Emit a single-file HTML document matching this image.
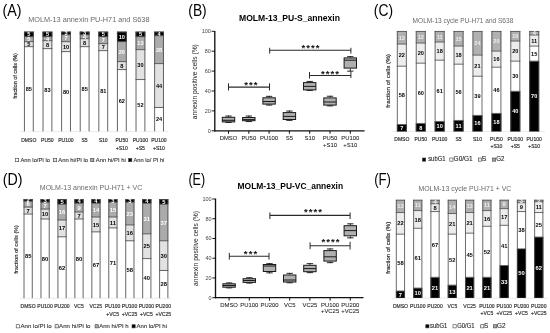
<!DOCTYPE html>
<html><head><meta charset="utf-8"><style>
html,body{margin:0;padding:0;background:#fff;width:550px;height:333px;overflow:hidden}
svg{display:block;font-family:"Liberation Sans", Arial, sans-serif;filter:blur(0.35px)}
</style></head><body>
<svg width="550" height="333" viewBox="0 0 550 333">
<rect width="550" height="333" fill="#fff"/>
<text x="2.60" y="15.70" font-size="15.6" fill="#000" textLength="19.00" lengthAdjust="spacingAndGlyphs" >(A)</text>
<text x="28.20" y="22.20" font-size="7" fill="#6a6a6a" textLength="121.30" lengthAdjust="spacingAndGlyphs" >MOLM-13 annexin PU-H71 and S638</text>
<text x="16.60" y="76.00" font-size="5.9" fill="#333333" stroke="#333333" stroke-width="0.2" text-anchor="middle" textLength="45.70" lengthAdjust="spacingAndGlyphs" transform="rotate(-90 16.60 76.00)" >fraction of cells (%)</text>
<line x1="20.00" y1="131.60" x2="168.00" y2="131.60" stroke="#e6e6e6" stroke-width="0.8"/>
<rect x="24.00" y="46.66" width="9.70" height="84.75" fill="#ffffff" />
<rect x="24.00" y="41.67" width="9.70" height="4.99" fill="#e2e2e2" />
<rect x="24.00" y="36.69" width="9.70" height="4.99" fill="#ababab" />
<rect x="24.00" y="31.70" width="9.70" height="4.99" fill="#000000" />
<line x1="24.43" y1="31.70" x2="24.43" y2="131.40" stroke="#4a4a4a" stroke-width="0.85"/>
<line x1="33.28" y1="31.70" x2="33.28" y2="131.40" stroke="#4a4a4a" stroke-width="0.85"/>
<line x1="24.00" y1="32.12" x2="33.70" y2="32.12" stroke="#4a4a4a" stroke-width="0.85"/>
<line x1="24.00" y1="46.66" x2="33.70" y2="46.66" stroke="#4a4a4a" stroke-width="0.85"/>
<line x1="24.00" y1="41.67" x2="33.70" y2="41.67" stroke="#4a4a4a" stroke-width="0.85"/>
<line x1="24.00" y1="36.69" x2="33.70" y2="36.69" stroke="#4a4a4a" stroke-width="0.85"/>
<text x="28.85" y="91.04" font-size="5.6" fill="#000" text-anchor="middle" font-weight="bold" >85</text>
<text x="28.85" y="46.18" font-size="5.6" fill="#000" text-anchor="middle" font-weight="bold" >5</text>
<text x="28.85" y="41.19" font-size="5.6" fill="#fff" text-anchor="middle" font-weight="bold" >5</text>
<text x="28.85" y="36.21" font-size="5.6" fill="#fff" text-anchor="middle" font-weight="bold" >5</text>
<rect x="42.60" y="48.65" width="9.70" height="82.75" fill="#ffffff" />
<rect x="42.60" y="40.67" width="9.70" height="7.98" fill="#e2e2e2" />
<rect x="42.60" y="36.69" width="9.70" height="3.99" fill="#ababab" />
<rect x="42.60" y="31.70" width="9.70" height="4.99" fill="#000000" />
<line x1="43.02" y1="31.70" x2="43.02" y2="131.40" stroke="#4a4a4a" stroke-width="0.85"/>
<line x1="51.88" y1="31.70" x2="51.88" y2="131.40" stroke="#4a4a4a" stroke-width="0.85"/>
<line x1="42.60" y1="32.12" x2="52.30" y2="32.12" stroke="#4a4a4a" stroke-width="0.85"/>
<line x1="42.60" y1="48.65" x2="52.30" y2="48.65" stroke="#4a4a4a" stroke-width="0.85"/>
<line x1="42.60" y1="40.67" x2="52.30" y2="40.67" stroke="#4a4a4a" stroke-width="0.85"/>
<line x1="42.60" y1="36.69" x2="52.30" y2="36.69" stroke="#4a4a4a" stroke-width="0.85"/>
<text x="47.45" y="92.04" font-size="5.6" fill="#000" text-anchor="middle" font-weight="bold" >83</text>
<text x="47.45" y="46.68" font-size="5.6" fill="#000" text-anchor="middle" font-weight="bold" >8</text>
<text x="47.45" y="40.70" font-size="5.6" fill="#fff" text-anchor="middle" font-weight="bold" >4</text>
<text x="47.45" y="36.21" font-size="5.6" fill="#fff" text-anchor="middle" font-weight="bold" >5</text>
<rect x="61.20" y="51.64" width="9.70" height="79.76" fill="#ffffff" />
<rect x="61.20" y="41.67" width="9.70" height="9.97" fill="#e2e2e2" />
<rect x="61.20" y="34.69" width="9.70" height="6.98" fill="#ababab" />
<rect x="61.20" y="31.70" width="9.70" height="2.99" fill="#000000" />
<line x1="61.62" y1="31.70" x2="61.62" y2="131.40" stroke="#4a4a4a" stroke-width="0.85"/>
<line x1="70.48" y1="31.70" x2="70.48" y2="131.40" stroke="#4a4a4a" stroke-width="0.85"/>
<line x1="61.20" y1="32.12" x2="70.90" y2="32.12" stroke="#4a4a4a" stroke-width="0.85"/>
<line x1="61.20" y1="51.64" x2="70.90" y2="51.64" stroke="#4a4a4a" stroke-width="0.85"/>
<line x1="61.20" y1="41.67" x2="70.90" y2="41.67" stroke="#4a4a4a" stroke-width="0.85"/>
<line x1="61.20" y1="34.69" x2="70.90" y2="34.69" stroke="#4a4a4a" stroke-width="0.85"/>
<text x="66.05" y="93.54" font-size="5.6" fill="#000" text-anchor="middle" font-weight="bold" >80</text>
<text x="66.05" y="48.67" font-size="5.6" fill="#000" text-anchor="middle" font-weight="bold" >10</text>
<text x="66.05" y="40.20" font-size="5.6" fill="#fff" text-anchor="middle" font-weight="bold" >7</text>
<text x="66.05" y="35.21" font-size="5.6" fill="#fff" text-anchor="middle" font-weight="bold" >3</text>
<rect x="79.80" y="46.66" width="9.70" height="84.75" fill="#ffffff" />
<rect x="79.80" y="38.68" width="9.70" height="7.98" fill="#e2e2e2" />
<rect x="79.80" y="34.69" width="9.70" height="3.99" fill="#ababab" />
<rect x="79.80" y="31.70" width="9.70" height="2.99" fill="#000000" />
<line x1="80.23" y1="31.70" x2="80.23" y2="131.40" stroke="#4a4a4a" stroke-width="0.85"/>
<line x1="89.08" y1="31.70" x2="89.08" y2="131.40" stroke="#4a4a4a" stroke-width="0.85"/>
<line x1="79.80" y1="32.12" x2="89.50" y2="32.12" stroke="#4a4a4a" stroke-width="0.85"/>
<line x1="79.80" y1="46.66" x2="89.50" y2="46.66" stroke="#4a4a4a" stroke-width="0.85"/>
<line x1="79.80" y1="38.68" x2="89.50" y2="38.68" stroke="#4a4a4a" stroke-width="0.85"/>
<line x1="79.80" y1="34.69" x2="89.50" y2="34.69" stroke="#4a4a4a" stroke-width="0.85"/>
<text x="84.65" y="91.04" font-size="5.6" fill="#000" text-anchor="middle" font-weight="bold" >85</text>
<text x="84.65" y="44.68" font-size="5.6" fill="#000" text-anchor="middle" font-weight="bold" >8</text>
<text x="84.65" y="38.70" font-size="5.6" fill="#fff" text-anchor="middle" font-weight="bold" >4</text>
<text x="84.65" y="35.21" font-size="5.6" fill="#fff" text-anchor="middle" font-weight="bold" >3</text>
<rect x="98.40" y="50.64" width="9.70" height="80.76" fill="#ffffff" />
<rect x="98.40" y="43.66" width="9.70" height="6.98" fill="#e2e2e2" />
<rect x="98.40" y="36.69" width="9.70" height="6.98" fill="#ababab" />
<rect x="98.40" y="31.70" width="9.70" height="4.99" fill="#000000" />
<line x1="98.83" y1="31.70" x2="98.83" y2="131.40" stroke="#4a4a4a" stroke-width="0.85"/>
<line x1="107.68" y1="31.70" x2="107.68" y2="131.40" stroke="#4a4a4a" stroke-width="0.85"/>
<line x1="98.40" y1="32.12" x2="108.10" y2="32.12" stroke="#4a4a4a" stroke-width="0.85"/>
<line x1="98.40" y1="50.64" x2="108.10" y2="50.64" stroke="#4a4a4a" stroke-width="0.85"/>
<line x1="98.40" y1="43.66" x2="108.10" y2="43.66" stroke="#4a4a4a" stroke-width="0.85"/>
<line x1="98.40" y1="36.69" x2="108.10" y2="36.69" stroke="#4a4a4a" stroke-width="0.85"/>
<text x="103.25" y="93.04" font-size="5.6" fill="#000" text-anchor="middle" font-weight="bold" >81</text>
<text x="103.25" y="49.17" font-size="5.6" fill="#000" text-anchor="middle" font-weight="bold" >7</text>
<text x="103.25" y="42.19" font-size="5.6" fill="#fff" text-anchor="middle" font-weight="bold" >7</text>
<text x="103.25" y="36.21" font-size="5.6" fill="#fff" text-anchor="middle" font-weight="bold" >5</text>
<rect x="117.00" y="69.59" width="9.70" height="61.81" fill="#ffffff" />
<rect x="117.00" y="61.61" width="9.70" height="7.98" fill="#e2e2e2" />
<rect x="117.00" y="41.67" width="9.70" height="19.94" fill="#ababab" />
<rect x="117.00" y="31.70" width="9.70" height="9.97" fill="#000000" />
<line x1="117.42" y1="31.70" x2="117.42" y2="131.40" stroke="#4a4a4a" stroke-width="0.85"/>
<line x1="126.28" y1="31.70" x2="126.28" y2="131.40" stroke="#4a4a4a" stroke-width="0.85"/>
<line x1="117.00" y1="32.12" x2="126.70" y2="32.12" stroke="#4a4a4a" stroke-width="0.85"/>
<line x1="117.00" y1="69.59" x2="126.70" y2="69.59" stroke="#4a4a4a" stroke-width="0.85"/>
<line x1="117.00" y1="61.61" x2="126.70" y2="61.61" stroke="#4a4a4a" stroke-width="0.85"/>
<line x1="117.00" y1="41.67" x2="126.70" y2="41.67" stroke="#4a4a4a" stroke-width="0.85"/>
<text x="121.85" y="102.51" font-size="5.6" fill="#000" text-anchor="middle" font-weight="bold" >62</text>
<text x="121.85" y="67.61" font-size="5.6" fill="#000" text-anchor="middle" font-weight="bold" >8</text>
<text x="121.85" y="53.66" font-size="5.6" fill="#fff" text-anchor="middle" font-weight="bold" >20</text>
<text x="121.85" y="38.70" font-size="5.6" fill="#fff" text-anchor="middle" font-weight="bold" >10</text>
<rect x="135.60" y="79.56" width="9.70" height="51.84" fill="#ffffff" />
<rect x="135.60" y="49.65" width="9.70" height="29.91" fill="#e2e2e2" />
<rect x="135.60" y="36.69" width="9.70" height="12.96" fill="#ababab" />
<rect x="135.60" y="31.70" width="9.70" height="4.99" fill="#000000" />
<line x1="136.03" y1="31.70" x2="136.03" y2="131.40" stroke="#4a4a4a" stroke-width="0.85"/>
<line x1="144.88" y1="31.70" x2="144.88" y2="131.40" stroke="#4a4a4a" stroke-width="0.85"/>
<line x1="135.60" y1="32.12" x2="145.30" y2="32.12" stroke="#4a4a4a" stroke-width="0.85"/>
<line x1="135.60" y1="79.56" x2="145.30" y2="79.56" stroke="#4a4a4a" stroke-width="0.85"/>
<line x1="135.60" y1="49.65" x2="145.30" y2="49.65" stroke="#4a4a4a" stroke-width="0.85"/>
<line x1="135.60" y1="36.69" x2="145.30" y2="36.69" stroke="#4a4a4a" stroke-width="0.85"/>
<text x="140.45" y="107.49" font-size="5.6" fill="#000" text-anchor="middle" font-weight="bold" >52</text>
<text x="140.45" y="66.62" font-size="5.6" fill="#000" text-anchor="middle" font-weight="bold" >30</text>
<text x="140.45" y="45.18" font-size="5.6" fill="#fff" text-anchor="middle" font-weight="bold" >13</text>
<text x="140.45" y="36.21" font-size="5.6" fill="#fff" text-anchor="middle" font-weight="bold" >5</text>
<rect x="154.20" y="107.47" width="9.70" height="23.93" fill="#ffffff" />
<rect x="154.20" y="63.60" width="9.70" height="43.87" fill="#e2e2e2" />
<rect x="154.20" y="35.69" width="9.70" height="27.92" fill="#ababab" />
<rect x="154.20" y="31.70" width="9.70" height="3.99" fill="#000000" />
<line x1="154.63" y1="31.70" x2="154.63" y2="131.40" stroke="#4a4a4a" stroke-width="0.85"/>
<line x1="163.47" y1="31.70" x2="163.47" y2="131.40" stroke="#4a4a4a" stroke-width="0.85"/>
<line x1="154.20" y1="32.12" x2="163.90" y2="32.12" stroke="#4a4a4a" stroke-width="0.85"/>
<line x1="154.20" y1="107.47" x2="163.90" y2="107.47" stroke="#4a4a4a" stroke-width="0.85"/>
<line x1="154.20" y1="63.60" x2="163.90" y2="63.60" stroke="#4a4a4a" stroke-width="0.85"/>
<line x1="154.20" y1="35.69" x2="163.90" y2="35.69" stroke="#4a4a4a" stroke-width="0.85"/>
<text x="159.05" y="121.45" font-size="5.6" fill="#000" text-anchor="middle" font-weight="bold" >24</text>
<text x="159.05" y="87.55" font-size="5.6" fill="#000" text-anchor="middle" font-weight="bold" >44</text>
<text x="159.05" y="51.66" font-size="5.6" fill="#fff" text-anchor="middle" font-weight="bold" >28</text>
<text x="159.05" y="35.71" font-size="5.6" fill="#fff" text-anchor="middle" font-weight="bold" >4</text>
<text x="28.75" y="141.50" font-size="5.6" fill="#333333" stroke="#333333" stroke-width="0.2" text-anchor="middle" textLength="15.12" lengthAdjust="spacingAndGlyphs" >DMSO</text>
<text x="47.35" y="141.50" font-size="5.6" fill="#333333" stroke="#333333" stroke-width="0.2" text-anchor="middle" textLength="12.61" lengthAdjust="spacingAndGlyphs" >PU50</text>
<text x="65.95" y="141.50" font-size="5.6" fill="#333333" stroke="#333333" stroke-width="0.2" text-anchor="middle" textLength="15.41" lengthAdjust="spacingAndGlyphs" >PU100</text>
<text x="84.55" y="141.50" font-size="5.6" fill="#333333" stroke="#333333" stroke-width="0.2" text-anchor="middle" textLength="6.16" lengthAdjust="spacingAndGlyphs" >S5</text>
<text x="103.15" y="141.50" font-size="5.6" fill="#333333" stroke="#333333" stroke-width="0.2" text-anchor="middle" textLength="8.97" lengthAdjust="spacingAndGlyphs" >S10</text>
<text x="121.75" y="141.50" font-size="5.6" fill="#333333" stroke="#333333" stroke-width="0.2" text-anchor="middle" textLength="12.61" lengthAdjust="spacingAndGlyphs" >PU50</text>
<text x="121.75" y="149.50" font-size="5.6" fill="#333333" stroke="#333333" stroke-width="0.2" text-anchor="middle" textLength="11.91" lengthAdjust="spacingAndGlyphs" >+S10</text>
<text x="140.35" y="141.50" font-size="5.6" fill="#333333" stroke="#333333" stroke-width="0.2" text-anchor="middle" textLength="15.41" lengthAdjust="spacingAndGlyphs" >PU100</text>
<text x="140.35" y="149.50" font-size="5.6" fill="#333333" stroke="#333333" stroke-width="0.2" text-anchor="middle" textLength="9.11" lengthAdjust="spacingAndGlyphs" >+S5</text>
<text x="158.95" y="141.50" font-size="5.6" fill="#333333" stroke="#333333" stroke-width="0.2" text-anchor="middle" textLength="15.41" lengthAdjust="spacingAndGlyphs" >PU100</text>
<text x="158.95" y="149.50" font-size="5.6" fill="#333333" stroke="#333333" stroke-width="0.2" text-anchor="middle" textLength="11.91" lengthAdjust="spacingAndGlyphs" >+S10</text>
<rect x="15.50" y="158.50" width="3.20" height="3.20" fill="#ffffff" stroke="#404040" stroke-width="0.6" />
<text x="20.50" y="161.80" font-size="6.0" fill="#333333" stroke="#333333" stroke-width="0.12" textLength="29.50" lengthAdjust="spacingAndGlyphs" >Ann lo/PI lo</text>
<rect x="53.50" y="158.50" width="3.20" height="3.20" fill="#e2e2e2" stroke="#404040" stroke-width="0.6" />
<text x="58.30" y="161.80" font-size="6.0" fill="#333333" stroke="#333333" stroke-width="0.12" textLength="29.70" lengthAdjust="spacingAndGlyphs" >Ann hi/PI lo</text>
<rect x="90.70" y="158.50" width="3.20" height="3.20" fill="#a6a6a6" stroke="#404040" stroke-width="0.6" />
<text x="95.80" y="161.80" font-size="6.0" fill="#333333" stroke="#333333" stroke-width="0.12" textLength="29.90" lengthAdjust="spacingAndGlyphs" >Ann hi/PI hi</text>
<rect x="128.60" y="158.50" width="3.20" height="3.20" fill="#000000" stroke="#404040" stroke-width="0.6" />
<text x="133.50" y="161.80" font-size="6.0" fill="#333333" stroke="#333333" stroke-width="0.12" textLength="30.90" lengthAdjust="spacingAndGlyphs" >Ann lo/ PI hi</text>
<text x="373.80" y="15.70" font-size="15.6" fill="#000" textLength="19.20" lengthAdjust="spacingAndGlyphs" >(C)</text>
<text x="412.60" y="22.60" font-size="6.8" fill="#6a6a6a" textLength="100.70" lengthAdjust="spacingAndGlyphs" >MOLM-13 cycle PU-H71 and S638</text>
<text x="390.30" y="80.90" font-size="5.8" fill="#333333" stroke="#333333" stroke-width="0.2" text-anchor="middle" textLength="53.60" lengthAdjust="spacingAndGlyphs" transform="rotate(-90 390.30 80.90)" >fraction of cells (%)</text>
<line x1="392.00" y1="131.40" x2="545.00" y2="131.40" stroke="#e6e6e6" stroke-width="0.8"/>
<rect x="396.90" y="124.47" width="9.90" height="7.04" fill="#000000" />
<rect x="396.90" y="66.18" width="9.90" height="58.29" fill="#ffffff" />
<rect x="396.90" y="44.07" width="9.90" height="22.11" fill="#ededed" />
<rect x="396.90" y="31.00" width="9.90" height="13.06" fill="#b0b0b0" />
<line x1="397.32" y1="31.00" x2="397.32" y2="131.50" stroke="#505050" stroke-width="0.85"/>
<line x1="406.37" y1="31.00" x2="406.37" y2="131.50" stroke="#505050" stroke-width="0.85"/>
<line x1="396.90" y1="31.43" x2="406.80" y2="31.43" stroke="#505050" stroke-width="0.85"/>
<line x1="396.90" y1="124.47" x2="406.80" y2="124.47" stroke="#505050" stroke-width="0.85"/>
<line x1="396.90" y1="66.18" x2="406.80" y2="66.18" stroke="#505050" stroke-width="0.85"/>
<line x1="396.90" y1="44.07" x2="406.80" y2="44.07" stroke="#505050" stroke-width="0.85"/>
<text x="401.85" y="130.00" font-size="5.6" fill="#fff" text-anchor="middle" font-weight="bold" >7</text>
<text x="401.85" y="97.34" font-size="5.6" fill="#000" text-anchor="middle" font-weight="bold" >58</text>
<text x="401.85" y="57.14" font-size="5.6" fill="#000" text-anchor="middle" font-weight="bold" >22</text>
<text x="401.85" y="39.55" font-size="5.6" fill="#eeeeee" text-anchor="middle" font-weight="bold" >13</text>
<rect x="415.81" y="123.46" width="9.90" height="8.04" fill="#000000" />
<rect x="415.81" y="63.16" width="9.90" height="60.30" fill="#ffffff" />
<rect x="415.81" y="43.06" width="9.90" height="20.10" fill="#ededed" />
<rect x="415.81" y="31.00" width="9.90" height="12.06" fill="#b0b0b0" />
<line x1="416.24" y1="31.00" x2="416.24" y2="131.50" stroke="#505050" stroke-width="0.85"/>
<line x1="425.28" y1="31.00" x2="425.28" y2="131.50" stroke="#505050" stroke-width="0.85"/>
<line x1="415.81" y1="31.43" x2="425.71" y2="31.43" stroke="#505050" stroke-width="0.85"/>
<line x1="415.81" y1="123.46" x2="425.71" y2="123.46" stroke="#505050" stroke-width="0.85"/>
<line x1="415.81" y1="63.16" x2="425.71" y2="63.16" stroke="#505050" stroke-width="0.85"/>
<line x1="415.81" y1="43.06" x2="425.71" y2="43.06" stroke="#505050" stroke-width="0.85"/>
<text x="420.76" y="129.50" font-size="5.6" fill="#fff" text-anchor="middle" font-weight="bold" >8</text>
<text x="420.76" y="95.33" font-size="5.6" fill="#000" text-anchor="middle" font-weight="bold" >60</text>
<text x="420.76" y="55.13" font-size="5.6" fill="#000" text-anchor="middle" font-weight="bold" >20</text>
<text x="420.76" y="39.05" font-size="5.6" fill="#eeeeee" text-anchor="middle" font-weight="bold" >12</text>
<rect x="434.72" y="121.45" width="9.90" height="10.05" fill="#000000" />
<rect x="434.72" y="60.15" width="9.90" height="61.30" fill="#ffffff" />
<rect x="434.72" y="42.06" width="9.90" height="18.09" fill="#ededed" />
<rect x="434.72" y="31.00" width="9.90" height="11.05" fill="#b0b0b0" />
<line x1="435.14" y1="31.00" x2="435.14" y2="131.50" stroke="#505050" stroke-width="0.85"/>
<line x1="444.19" y1="31.00" x2="444.19" y2="131.50" stroke="#505050" stroke-width="0.85"/>
<line x1="434.72" y1="31.43" x2="444.62" y2="31.43" stroke="#505050" stroke-width="0.85"/>
<line x1="434.72" y1="121.45" x2="444.62" y2="121.45" stroke="#505050" stroke-width="0.85"/>
<line x1="434.72" y1="60.15" x2="444.62" y2="60.15" stroke="#505050" stroke-width="0.85"/>
<line x1="434.72" y1="42.06" x2="444.62" y2="42.06" stroke="#505050" stroke-width="0.85"/>
<text x="439.67" y="128.49" font-size="5.6" fill="#fff" text-anchor="middle" font-weight="bold" >10</text>
<text x="439.67" y="92.81" font-size="5.6" fill="#000" text-anchor="middle" font-weight="bold" >61</text>
<text x="439.67" y="53.12" font-size="5.6" fill="#000" text-anchor="middle" font-weight="bold" >18</text>
<text x="439.67" y="38.54" font-size="5.6" fill="#eeeeee" text-anchor="middle" font-weight="bold" >11</text>
<rect x="453.63" y="120.44" width="9.90" height="11.05" fill="#000000" />
<rect x="453.63" y="64.16" width="9.90" height="56.28" fill="#ffffff" />
<rect x="453.63" y="46.07" width="9.90" height="18.09" fill="#ededed" />
<rect x="453.63" y="31.00" width="9.90" height="15.07" fill="#b0b0b0" />
<line x1="454.06" y1="31.00" x2="454.06" y2="131.50" stroke="#505050" stroke-width="0.85"/>
<line x1="463.10" y1="31.00" x2="463.10" y2="131.50" stroke="#505050" stroke-width="0.85"/>
<line x1="453.63" y1="31.43" x2="463.53" y2="31.43" stroke="#505050" stroke-width="0.85"/>
<line x1="453.63" y1="120.44" x2="463.53" y2="120.44" stroke="#505050" stroke-width="0.85"/>
<line x1="453.63" y1="64.16" x2="463.53" y2="64.16" stroke="#505050" stroke-width="0.85"/>
<line x1="453.63" y1="46.07" x2="463.53" y2="46.07" stroke="#505050" stroke-width="0.85"/>
<text x="458.58" y="127.99" font-size="5.6" fill="#fff" text-anchor="middle" font-weight="bold" >11</text>
<text x="458.58" y="94.32" font-size="5.6" fill="#000" text-anchor="middle" font-weight="bold" >56</text>
<text x="458.58" y="57.14" font-size="5.6" fill="#000" text-anchor="middle" font-weight="bold" >18</text>
<text x="458.58" y="40.55" font-size="5.6" fill="#eeeeee" text-anchor="middle" font-weight="bold" >15</text>
<rect x="472.54" y="115.42" width="9.90" height="16.08" fill="#000000" />
<rect x="472.54" y="76.22" width="9.90" height="39.20" fill="#ffffff" />
<rect x="472.54" y="55.12" width="9.90" height="21.11" fill="#ededed" />
<rect x="472.54" y="31.00" width="9.90" height="24.12" fill="#b0b0b0" />
<line x1="472.96" y1="31.00" x2="472.96" y2="131.50" stroke="#505050" stroke-width="0.85"/>
<line x1="482.01" y1="31.00" x2="482.01" y2="131.50" stroke="#505050" stroke-width="0.85"/>
<line x1="472.54" y1="31.43" x2="482.44" y2="31.43" stroke="#505050" stroke-width="0.85"/>
<line x1="472.54" y1="115.42" x2="482.44" y2="115.42" stroke="#505050" stroke-width="0.85"/>
<line x1="472.54" y1="76.22" x2="482.44" y2="76.22" stroke="#505050" stroke-width="0.85"/>
<line x1="472.54" y1="55.12" x2="482.44" y2="55.12" stroke="#505050" stroke-width="0.85"/>
<text x="477.49" y="125.48" font-size="5.6" fill="#fff" text-anchor="middle" font-weight="bold" >16</text>
<text x="477.49" y="97.84" font-size="5.6" fill="#000" text-anchor="middle" font-weight="bold" >39</text>
<text x="477.49" y="67.69" font-size="5.6" fill="#000" text-anchor="middle" font-weight="bold" >21</text>
<text x="477.49" y="45.08" font-size="5.6" fill="#eeeeee" text-anchor="middle" font-weight="bold" >24</text>
<rect x="491.45" y="113.41" width="9.90" height="18.09" fill="#000000" />
<rect x="491.45" y="67.18" width="9.90" height="46.23" fill="#ffffff" />
<rect x="491.45" y="51.10" width="9.90" height="16.08" fill="#ededed" />
<rect x="491.45" y="31.00" width="9.90" height="20.10" fill="#b0b0b0" />
<line x1="491.88" y1="31.00" x2="491.88" y2="131.50" stroke="#505050" stroke-width="0.85"/>
<line x1="500.92" y1="31.00" x2="500.92" y2="131.50" stroke="#505050" stroke-width="0.85"/>
<line x1="491.45" y1="31.43" x2="501.35" y2="31.43" stroke="#505050" stroke-width="0.85"/>
<line x1="491.45" y1="113.41" x2="501.35" y2="113.41" stroke="#505050" stroke-width="0.85"/>
<line x1="491.45" y1="67.18" x2="501.35" y2="67.18" stroke="#505050" stroke-width="0.85"/>
<line x1="491.45" y1="51.10" x2="501.35" y2="51.10" stroke="#505050" stroke-width="0.85"/>
<text x="496.40" y="124.47" font-size="5.6" fill="#fff" text-anchor="middle" font-weight="bold" >18</text>
<text x="496.40" y="92.31" font-size="5.6" fill="#000" text-anchor="middle" font-weight="bold" >46</text>
<text x="496.40" y="61.16" font-size="5.6" fill="#000" text-anchor="middle" font-weight="bold" >16</text>
<text x="496.40" y="43.07" font-size="5.6" fill="#eeeeee" text-anchor="middle" font-weight="bold" >20</text>
<rect x="510.36" y="91.30" width="9.90" height="40.20" fill="#000000" />
<rect x="510.36" y="61.15" width="9.90" height="30.15" fill="#ffffff" />
<rect x="510.36" y="41.05" width="9.90" height="20.10" fill="#ededed" />
<rect x="510.36" y="31.00" width="9.90" height="10.05" fill="#b0b0b0" />
<line x1="510.79" y1="31.00" x2="510.79" y2="131.50" stroke="#505050" stroke-width="0.85"/>
<line x1="519.84" y1="31.00" x2="519.84" y2="131.50" stroke="#505050" stroke-width="0.85"/>
<line x1="510.36" y1="31.43" x2="520.26" y2="31.43" stroke="#505050" stroke-width="0.85"/>
<line x1="510.36" y1="91.30" x2="520.26" y2="91.30" stroke="#505050" stroke-width="0.85"/>
<line x1="510.36" y1="61.15" x2="520.26" y2="61.15" stroke="#505050" stroke-width="0.85"/>
<line x1="510.36" y1="41.05" x2="520.26" y2="41.05" stroke="#505050" stroke-width="0.85"/>
<text x="515.31" y="113.42" font-size="5.6" fill="#fff" text-anchor="middle" font-weight="bold" >40</text>
<text x="515.31" y="78.24" font-size="5.6" fill="#000" text-anchor="middle" font-weight="bold" >30</text>
<text x="515.31" y="53.12" font-size="5.6" fill="#000" text-anchor="middle" font-weight="bold" >20</text>
<text x="515.31" y="38.04" font-size="5.6" fill="#eeeeee" text-anchor="middle" font-weight="bold" >10</text>
<rect x="529.27" y="61.15" width="9.90" height="70.35" fill="#000000" />
<rect x="529.27" y="46.08" width="9.90" height="15.07" fill="#ffffff" />
<rect x="529.27" y="35.02" width="9.90" height="11.05" fill="#ededed" />
<rect x="529.27" y="31.00" width="9.90" height="4.02" fill="#b0b0b0" />
<line x1="529.69" y1="31.00" x2="529.69" y2="131.50" stroke="#505050" stroke-width="0.85"/>
<line x1="538.75" y1="31.00" x2="538.75" y2="131.50" stroke="#505050" stroke-width="0.85"/>
<line x1="529.27" y1="31.43" x2="539.17" y2="31.43" stroke="#505050" stroke-width="0.85"/>
<line x1="529.27" y1="61.15" x2="539.17" y2="61.15" stroke="#505050" stroke-width="0.85"/>
<line x1="529.27" y1="46.08" x2="539.17" y2="46.08" stroke="#505050" stroke-width="0.85"/>
<line x1="529.27" y1="35.02" x2="539.17" y2="35.02" stroke="#505050" stroke-width="0.85"/>
<text x="534.22" y="98.34" font-size="5.6" fill="#fff" text-anchor="middle" font-weight="bold" >70</text>
<text x="534.22" y="55.63" font-size="5.6" fill="#000" text-anchor="middle" font-weight="bold" >15</text>
<text x="534.22" y="42.56" font-size="5.6" fill="#000" text-anchor="middle" font-weight="bold" >11</text>
<text x="534.22" y="35.03" font-size="5.6" fill="#eeeeee" text-anchor="middle" font-weight="bold" >4</text>
<text x="401.85" y="141.00" font-size="5.6" fill="#333333" stroke="#333333" stroke-width="0.2" text-anchor="middle" textLength="15.12" lengthAdjust="spacingAndGlyphs" >DMSO</text>
<text x="420.76" y="141.00" font-size="5.6" fill="#333333" stroke="#333333" stroke-width="0.2" text-anchor="middle" textLength="12.61" lengthAdjust="spacingAndGlyphs" >PU50</text>
<text x="439.67" y="141.00" font-size="5.6" fill="#333333" stroke="#333333" stroke-width="0.2" text-anchor="middle" textLength="15.41" lengthAdjust="spacingAndGlyphs" >PU100</text>
<text x="458.58" y="141.00" font-size="5.6" fill="#333333" stroke="#333333" stroke-width="0.2" text-anchor="middle" textLength="6.16" lengthAdjust="spacingAndGlyphs" >S5</text>
<text x="477.49" y="141.00" font-size="5.6" fill="#333333" stroke="#333333" stroke-width="0.2" text-anchor="middle" textLength="8.97" lengthAdjust="spacingAndGlyphs" >S10</text>
<text x="496.40" y="141.00" font-size="5.6" fill="#333333" stroke="#333333" stroke-width="0.2" text-anchor="middle" textLength="12.61" lengthAdjust="spacingAndGlyphs" >PU50</text>
<text x="496.40" y="148.30" font-size="5.6" fill="#333333" stroke="#333333" stroke-width="0.2" text-anchor="middle" textLength="11.91" lengthAdjust="spacingAndGlyphs" >+S10</text>
<text x="515.31" y="141.00" font-size="5.6" fill="#333333" stroke="#333333" stroke-width="0.2" text-anchor="middle" textLength="15.41" lengthAdjust="spacingAndGlyphs" >PU100</text>
<text x="515.31" y="148.30" font-size="5.6" fill="#333333" stroke="#333333" stroke-width="0.2" text-anchor="middle" textLength="9.11" lengthAdjust="spacingAndGlyphs" >+S5</text>
<text x="534.22" y="141.00" font-size="5.6" fill="#333333" stroke="#333333" stroke-width="0.2" text-anchor="middle" textLength="15.41" lengthAdjust="spacingAndGlyphs" >PU100</text>
<text x="534.22" y="148.30" font-size="5.6" fill="#333333" stroke="#333333" stroke-width="0.2" text-anchor="middle" textLength="11.91" lengthAdjust="spacingAndGlyphs" >+S10</text>
<rect x="422.50" y="158.00" width="3.20" height="3.20" fill="#000000" stroke="#404040" stroke-width="0.6" />
<text x="428.20" y="161.30" font-size="6.4" fill="#262626" stroke="#262626" stroke-width="0.12" textLength="17.30" lengthAdjust="spacingAndGlyphs" >subG1</text>
<rect x="449.80" y="158.00" width="3.20" height="3.20" fill="#ffffff" stroke="#404040" stroke-width="0.6" />
<text x="453.60" y="161.30" font-size="6.4" fill="#262626" stroke="#262626" stroke-width="0.12" textLength="19.10" lengthAdjust="spacingAndGlyphs" >G0/G1</text>
<rect x="478.30" y="158.00" width="3.20" height="3.20" fill="#efefef" stroke="#404040" stroke-width="0.6" />
<text x="481.60" y="161.30" font-size="6.4" fill="#262626" stroke="#262626" stroke-width="0.12" textLength="4.80" lengthAdjust="spacingAndGlyphs" >S</text>
<rect x="492.50" y="158.00" width="3.20" height="3.20" fill="#a6a6a6" stroke="#404040" stroke-width="0.6" />
<text x="496.30" y="161.30" font-size="6.4" fill="#262626" stroke="#262626" stroke-width="0.12" textLength="8.20" lengthAdjust="spacingAndGlyphs" >G2</text>
<text x="2.80" y="185.00" font-size="15.8" fill="#000" textLength="19.70" lengthAdjust="spacingAndGlyphs" >(D)</text>
<text x="39.80" y="189.80" font-size="7" fill="#6a6a6a" textLength="102.60" lengthAdjust="spacingAndGlyphs" >MOLM-13 annexin PU-H71 + VC</text>
<text x="18.40" y="249.60" font-size="5.6" fill="#262626" text-anchor="middle" font-weight="bold" textLength="48.50" lengthAdjust="spacingAndGlyphs" transform="rotate(-90 18.40 249.60)" >fraction of cells (%)</text>
<line x1="20.00" y1="298.40" x2="171.00" y2="298.40" stroke="#e6e6e6" stroke-width="0.8"/>
<rect x="23.60" y="214.05" width="9.10" height="84.15" fill="#ffffff" />
<rect x="23.60" y="207.12" width="9.10" height="6.93" fill="#e2e2e2" />
<rect x="23.60" y="201.18" width="9.10" height="5.94" fill="#ababab" />
<rect x="23.60" y="199.20" width="9.10" height="1.98" fill="#000000" />
<line x1="24.03" y1="199.20" x2="24.03" y2="298.20" stroke="#4a4a4a" stroke-width="0.85"/>
<line x1="32.28" y1="199.20" x2="32.28" y2="298.20" stroke="#4a4a4a" stroke-width="0.85"/>
<line x1="23.60" y1="199.62" x2="32.70" y2="199.62" stroke="#4a4a4a" stroke-width="0.85"/>
<line x1="23.60" y1="214.05" x2="32.70" y2="214.05" stroke="#4a4a4a" stroke-width="0.85"/>
<line x1="23.60" y1="207.12" x2="32.70" y2="207.12" stroke="#4a4a4a" stroke-width="0.85"/>
<line x1="23.60" y1="201.18" x2="32.70" y2="201.18" stroke="#4a4a4a" stroke-width="0.85"/>
<text x="28.15" y="258.21" font-size="5.8" fill="#000" text-anchor="middle" font-weight="bold" >85</text>
<text x="28.15" y="212.67" font-size="5.8" fill="#000" text-anchor="middle" font-weight="bold" >7</text>
<text x="28.15" y="206.24" font-size="5.8" fill="#fff" text-anchor="middle" font-weight="bold" >6</text>
<text x="28.15" y="202.28" font-size="5.8" fill="#fff" text-anchor="middle" font-weight="bold" >2</text>
<rect x="40.55" y="219.00" width="9.10" height="79.20" fill="#ffffff" />
<rect x="40.55" y="209.10" width="9.10" height="9.90" fill="#e2e2e2" />
<rect x="40.55" y="202.17" width="9.10" height="6.93" fill="#ababab" />
<rect x="40.55" y="199.20" width="9.10" height="2.97" fill="#000000" />
<line x1="40.97" y1="199.20" x2="40.97" y2="298.20" stroke="#4a4a4a" stroke-width="0.85"/>
<line x1="49.23" y1="199.20" x2="49.23" y2="298.20" stroke="#4a4a4a" stroke-width="0.85"/>
<line x1="40.55" y1="199.62" x2="49.65" y2="199.62" stroke="#4a4a4a" stroke-width="0.85"/>
<line x1="40.55" y1="219.00" x2="49.65" y2="219.00" stroke="#4a4a4a" stroke-width="0.85"/>
<line x1="40.55" y1="209.10" x2="49.65" y2="209.10" stroke="#4a4a4a" stroke-width="0.85"/>
<line x1="40.55" y1="202.17" x2="49.65" y2="202.17" stroke="#4a4a4a" stroke-width="0.85"/>
<text x="45.10" y="260.69" font-size="5.8" fill="#000" text-anchor="middle" font-weight="bold" >80</text>
<text x="45.10" y="216.14" font-size="5.8" fill="#000" text-anchor="middle" font-weight="bold" >10</text>
<text x="45.10" y="207.72" font-size="5.8" fill="#fff" text-anchor="middle" font-weight="bold" >7</text>
<text x="45.10" y="202.77" font-size="5.8" fill="#fff" text-anchor="middle" font-weight="bold" >3</text>
<rect x="57.50" y="236.82" width="9.10" height="61.38" fill="#ffffff" />
<rect x="57.50" y="219.99" width="9.10" height="16.83" fill="#e2e2e2" />
<rect x="57.50" y="204.15" width="9.10" height="15.84" fill="#ababab" />
<rect x="57.50" y="199.20" width="9.10" height="4.95" fill="#000000" />
<line x1="57.92" y1="199.20" x2="57.92" y2="298.20" stroke="#4a4a4a" stroke-width="0.85"/>
<line x1="66.17" y1="199.20" x2="66.17" y2="298.20" stroke="#4a4a4a" stroke-width="0.85"/>
<line x1="57.50" y1="199.62" x2="66.60" y2="199.62" stroke="#4a4a4a" stroke-width="0.85"/>
<line x1="57.50" y1="236.82" x2="66.60" y2="236.82" stroke="#4a4a4a" stroke-width="0.85"/>
<line x1="57.50" y1="219.99" x2="66.60" y2="219.99" stroke="#4a4a4a" stroke-width="0.85"/>
<line x1="57.50" y1="204.15" x2="66.60" y2="204.15" stroke="#4a4a4a" stroke-width="0.85"/>
<text x="62.05" y="269.60" font-size="5.8" fill="#000" text-anchor="middle" font-weight="bold" >62</text>
<text x="62.05" y="230.49" font-size="5.8" fill="#000" text-anchor="middle" font-weight="bold" >17</text>
<text x="62.05" y="214.16" font-size="5.8" fill="#fff" text-anchor="middle" font-weight="bold" >16</text>
<text x="62.05" y="203.76" font-size="5.8" fill="#fff" text-anchor="middle" font-weight="bold" >5</text>
<rect x="74.45" y="219.00" width="9.10" height="79.20" fill="#ffffff" />
<rect x="74.45" y="212.07" width="9.10" height="6.93" fill="#e2e2e2" />
<rect x="74.45" y="203.16" width="9.10" height="8.91" fill="#ababab" />
<rect x="74.45" y="199.20" width="9.10" height="3.96" fill="#000000" />
<line x1="74.87" y1="199.20" x2="74.87" y2="298.20" stroke="#4a4a4a" stroke-width="0.85"/>
<line x1="83.12" y1="199.20" x2="83.12" y2="298.20" stroke="#4a4a4a" stroke-width="0.85"/>
<line x1="74.45" y1="199.62" x2="83.55" y2="199.62" stroke="#4a4a4a" stroke-width="0.85"/>
<line x1="74.45" y1="219.00" x2="83.55" y2="219.00" stroke="#4a4a4a" stroke-width="0.85"/>
<line x1="74.45" y1="212.07" x2="83.55" y2="212.07" stroke="#4a4a4a" stroke-width="0.85"/>
<line x1="74.45" y1="203.16" x2="83.55" y2="203.16" stroke="#4a4a4a" stroke-width="0.85"/>
<text x="79.00" y="260.69" font-size="5.8" fill="#000" text-anchor="middle" font-weight="bold" >80</text>
<text x="79.00" y="217.62" font-size="5.8" fill="#000" text-anchor="middle" font-weight="bold" >7</text>
<text x="79.00" y="209.70" font-size="5.8" fill="#fff" text-anchor="middle" font-weight="bold" >9</text>
<text x="79.00" y="203.27" font-size="5.8" fill="#fff" text-anchor="middle" font-weight="bold" >4</text>
<rect x="91.40" y="231.87" width="9.10" height="66.33" fill="#ffffff" />
<rect x="91.40" y="217.02" width="9.10" height="14.85" fill="#e2e2e2" />
<rect x="91.40" y="203.16" width="9.10" height="13.86" fill="#ababab" />
<rect x="91.40" y="199.20" width="9.10" height="3.96" fill="#000000" />
<line x1="91.83" y1="199.20" x2="91.83" y2="298.20" stroke="#4a4a4a" stroke-width="0.85"/>
<line x1="100.08" y1="199.20" x2="100.08" y2="298.20" stroke="#4a4a4a" stroke-width="0.85"/>
<line x1="91.40" y1="199.62" x2="100.50" y2="199.62" stroke="#4a4a4a" stroke-width="0.85"/>
<line x1="91.40" y1="231.87" x2="100.50" y2="231.87" stroke="#4a4a4a" stroke-width="0.85"/>
<line x1="91.40" y1="217.02" x2="100.50" y2="217.02" stroke="#4a4a4a" stroke-width="0.85"/>
<line x1="91.40" y1="203.16" x2="100.50" y2="203.16" stroke="#4a4a4a" stroke-width="0.85"/>
<text x="95.95" y="267.12" font-size="5.8" fill="#000" text-anchor="middle" font-weight="bold" >67</text>
<text x="95.95" y="226.53" font-size="5.8" fill="#000" text-anchor="middle" font-weight="bold" >15</text>
<text x="95.95" y="212.18" font-size="5.8" fill="#fff" text-anchor="middle" font-weight="bold" >14</text>
<text x="95.95" y="203.27" font-size="5.8" fill="#fff" text-anchor="middle" font-weight="bold" >4</text>
<rect x="108.35" y="227.91" width="9.10" height="70.29" fill="#ffffff" />
<rect x="108.35" y="217.02" width="9.10" height="10.89" fill="#e2e2e2" />
<rect x="108.35" y="202.17" width="9.10" height="14.85" fill="#ababab" />
<rect x="108.35" y="199.20" width="9.10" height="2.97" fill="#000000" />
<line x1="108.77" y1="199.20" x2="108.77" y2="298.20" stroke="#4a4a4a" stroke-width="0.85"/>
<line x1="117.02" y1="199.20" x2="117.02" y2="298.20" stroke="#4a4a4a" stroke-width="0.85"/>
<line x1="108.35" y1="199.62" x2="117.45" y2="199.62" stroke="#4a4a4a" stroke-width="0.85"/>
<line x1="108.35" y1="227.91" x2="117.45" y2="227.91" stroke="#4a4a4a" stroke-width="0.85"/>
<line x1="108.35" y1="217.02" x2="117.45" y2="217.02" stroke="#4a4a4a" stroke-width="0.85"/>
<line x1="108.35" y1="202.17" x2="117.45" y2="202.17" stroke="#4a4a4a" stroke-width="0.85"/>
<text x="112.90" y="265.14" font-size="5.8" fill="#000" text-anchor="middle" font-weight="bold" >71</text>
<text x="112.90" y="224.55" font-size="5.8" fill="#000" text-anchor="middle" font-weight="bold" >11</text>
<text x="112.90" y="211.68" font-size="5.8" fill="#fff" text-anchor="middle" font-weight="bold" >15</text>
<text x="112.90" y="202.77" font-size="5.8" fill="#fff" text-anchor="middle" font-weight="bold" >3</text>
<rect x="125.30" y="240.78" width="9.10" height="57.42" fill="#ffffff" />
<rect x="125.30" y="224.94" width="9.10" height="15.84" fill="#e2e2e2" />
<rect x="125.30" y="202.17" width="9.10" height="22.77" fill="#ababab" />
<rect x="125.30" y="199.20" width="9.10" height="2.97" fill="#000000" />
<line x1="125.72" y1="199.20" x2="125.72" y2="298.20" stroke="#4a4a4a" stroke-width="0.85"/>
<line x1="133.97" y1="199.20" x2="133.97" y2="298.20" stroke="#4a4a4a" stroke-width="0.85"/>
<line x1="125.30" y1="199.62" x2="134.40" y2="199.62" stroke="#4a4a4a" stroke-width="0.85"/>
<line x1="125.30" y1="240.78" x2="134.40" y2="240.78" stroke="#4a4a4a" stroke-width="0.85"/>
<line x1="125.30" y1="224.94" x2="134.40" y2="224.94" stroke="#4a4a4a" stroke-width="0.85"/>
<line x1="125.30" y1="202.17" x2="134.40" y2="202.17" stroke="#4a4a4a" stroke-width="0.85"/>
<text x="129.85" y="271.58" font-size="5.8" fill="#000" text-anchor="middle" font-weight="bold" >58</text>
<text x="129.85" y="234.95" font-size="5.8" fill="#000" text-anchor="middle" font-weight="bold" >16</text>
<text x="129.85" y="215.64" font-size="5.8" fill="#fff" text-anchor="middle" font-weight="bold" >23</text>
<text x="129.85" y="202.77" font-size="5.8" fill="#fff" text-anchor="middle" font-weight="bold" >3</text>
<rect x="142.25" y="258.60" width="9.10" height="39.60" fill="#ffffff" />
<rect x="142.25" y="233.85" width="9.10" height="24.75" fill="#e2e2e2" />
<rect x="142.25" y="203.16" width="9.10" height="30.69" fill="#ababab" />
<rect x="142.25" y="199.20" width="9.10" height="3.96" fill="#000000" />
<line x1="142.68" y1="199.20" x2="142.68" y2="298.20" stroke="#4a4a4a" stroke-width="0.85"/>
<line x1="150.92" y1="199.20" x2="150.92" y2="298.20" stroke="#4a4a4a" stroke-width="0.85"/>
<line x1="142.25" y1="199.62" x2="151.35" y2="199.62" stroke="#4a4a4a" stroke-width="0.85"/>
<line x1="142.25" y1="258.60" x2="151.35" y2="258.60" stroke="#4a4a4a" stroke-width="0.85"/>
<line x1="142.25" y1="233.85" x2="151.35" y2="233.85" stroke="#4a4a4a" stroke-width="0.85"/>
<line x1="142.25" y1="203.16" x2="151.35" y2="203.16" stroke="#4a4a4a" stroke-width="0.85"/>
<text x="146.80" y="280.49" font-size="5.8" fill="#000" text-anchor="middle" font-weight="bold" >40</text>
<text x="146.80" y="248.31" font-size="5.8" fill="#000" text-anchor="middle" font-weight="bold" >25</text>
<text x="146.80" y="220.59" font-size="5.8" fill="#fff" text-anchor="middle" font-weight="bold" >31</text>
<text x="146.80" y="203.27" font-size="5.8" fill="#fff" text-anchor="middle" font-weight="bold" >4</text>
<rect x="159.20" y="270.48" width="9.10" height="27.72" fill="#ffffff" />
<rect x="159.20" y="240.78" width="9.10" height="29.70" fill="#e2e2e2" />
<rect x="159.20" y="204.15" width="9.10" height="36.63" fill="#ababab" />
<rect x="159.20" y="199.20" width="9.10" height="4.95" fill="#000000" />
<line x1="159.62" y1="199.20" x2="159.62" y2="298.20" stroke="#4a4a4a" stroke-width="0.85"/>
<line x1="167.87" y1="199.20" x2="167.87" y2="298.20" stroke="#4a4a4a" stroke-width="0.85"/>
<line x1="159.20" y1="199.62" x2="168.30" y2="199.62" stroke="#4a4a4a" stroke-width="0.85"/>
<line x1="159.20" y1="270.48" x2="168.30" y2="270.48" stroke="#4a4a4a" stroke-width="0.85"/>
<line x1="159.20" y1="240.78" x2="168.30" y2="240.78" stroke="#4a4a4a" stroke-width="0.85"/>
<line x1="159.20" y1="204.15" x2="168.30" y2="204.15" stroke="#4a4a4a" stroke-width="0.85"/>
<text x="163.75" y="286.43" font-size="5.8" fill="#000" text-anchor="middle" font-weight="bold" >28</text>
<text x="163.75" y="257.72" font-size="5.8" fill="#000" text-anchor="middle" font-weight="bold" >30</text>
<text x="163.75" y="224.55" font-size="5.8" fill="#fff" text-anchor="middle" font-weight="bold" >37</text>
<text x="163.75" y="203.76" font-size="5.8" fill="#fff" text-anchor="middle" font-weight="bold" >5</text>
<text x="28.10" y="308.40" font-size="5.6" fill="#333333" stroke="#333333" stroke-width="0.2" text-anchor="middle" textLength="15.12" lengthAdjust="spacingAndGlyphs" >DMSO</text>
<text x="45.00" y="308.40" font-size="5.6" fill="#333333" stroke="#333333" stroke-width="0.2" text-anchor="middle" textLength="15.41" lengthAdjust="spacingAndGlyphs" >PU100</text>
<text x="61.90" y="308.40" font-size="5.6" fill="#333333" stroke="#333333" stroke-width="0.2" text-anchor="middle" textLength="15.41" lengthAdjust="spacingAndGlyphs" >PU200</text>
<text x="78.80" y="308.40" font-size="5.6" fill="#333333" stroke="#333333" stroke-width="0.2" text-anchor="middle" textLength="9.80" lengthAdjust="spacingAndGlyphs" >VC5</text>
<text x="95.70" y="308.40" font-size="5.6" fill="#333333" stroke="#333333" stroke-width="0.2" text-anchor="middle" textLength="12.61" lengthAdjust="spacingAndGlyphs" >VC25</text>
<text x="112.60" y="308.40" font-size="5.6" fill="#333333" stroke="#333333" stroke-width="0.2" text-anchor="middle" textLength="15.41" lengthAdjust="spacingAndGlyphs" >PU100</text>
<text x="112.60" y="315.60" font-size="5.6" fill="#333333" stroke="#333333" stroke-width="0.2" text-anchor="middle" textLength="12.75" lengthAdjust="spacingAndGlyphs" >+VC5</text>
<text x="129.50" y="308.40" font-size="5.6" fill="#333333" stroke="#333333" stroke-width="0.2" text-anchor="middle" textLength="15.41" lengthAdjust="spacingAndGlyphs" >PU100</text>
<text x="129.50" y="315.60" font-size="5.6" fill="#333333" stroke="#333333" stroke-width="0.2" text-anchor="middle" textLength="15.55" lengthAdjust="spacingAndGlyphs" >+VC25</text>
<text x="146.40" y="308.40" font-size="5.6" fill="#333333" stroke="#333333" stroke-width="0.2" text-anchor="middle" textLength="15.41" lengthAdjust="spacingAndGlyphs" >PU200</text>
<text x="146.40" y="315.60" font-size="5.6" fill="#333333" stroke="#333333" stroke-width="0.2" text-anchor="middle" textLength="12.75" lengthAdjust="spacingAndGlyphs" >+VC5</text>
<text x="163.30" y="308.40" font-size="5.6" fill="#333333" stroke="#333333" stroke-width="0.2" text-anchor="middle" textLength="15.41" lengthAdjust="spacingAndGlyphs" >PU200</text>
<text x="163.30" y="315.60" font-size="5.6" fill="#333333" stroke="#333333" stroke-width="0.2" text-anchor="middle" textLength="15.55" lengthAdjust="spacingAndGlyphs" >+VC25</text>
<rect x="16.20" y="324.70" width="3.20" height="3.20" fill="#ffffff" stroke="#404040" stroke-width="0.6" />
<text x="20.50" y="328.00" font-size="6.0" fill="#333333" stroke="#333333" stroke-width="0.12" textLength="31.20" lengthAdjust="spacingAndGlyphs" >Ann lo/PI lo</text>
<rect x="55.10" y="324.70" width="3.20" height="3.20" fill="#e2e2e2" stroke="#404040" stroke-width="0.6" />
<text x="59.10" y="328.00" font-size="6.0" fill="#333333" stroke="#333333" stroke-width="0.12" textLength="31.30" lengthAdjust="spacingAndGlyphs" >Ann hi/PI lo</text>
<rect x="95.10" y="324.70" width="3.20" height="3.20" fill="#a6a6a6" stroke="#404040" stroke-width="0.6" />
<text x="99.30" y="328.00" font-size="6.0" fill="#333333" stroke="#333333" stroke-width="0.12" textLength="29.30" lengthAdjust="spacingAndGlyphs" >Ann hi/PI h</text>
<rect x="132.00" y="324.70" width="3.20" height="3.20" fill="#000000" stroke="#404040" stroke-width="0.6" />
<text x="136.40" y="328.00" font-size="6.0" fill="#333333" stroke="#333333" stroke-width="0.12" textLength="30.60" lengthAdjust="spacingAndGlyphs" >Ann lo/PI hi</text>
<text x="374.20" y="185.00" font-size="15.8" fill="#000" textLength="16.80" lengthAdjust="spacingAndGlyphs" >(F)</text>
<text x="418.40" y="190.80" font-size="6.8" fill="#6a6a6a" textLength="93.00" lengthAdjust="spacingAndGlyphs" >MOLM-13 cycle PU-H71 + VC</text>
<text x="389.60" y="247.80" font-size="5.8" fill="#333333" stroke="#333333" stroke-width="0.2" text-anchor="middle" textLength="52.00" lengthAdjust="spacingAndGlyphs" transform="rotate(-90 389.60 247.80)" >fraction of cells (%)</text>
<line x1="392.00" y1="298.20" x2="548.00" y2="298.20" stroke="#e6e6e6" stroke-width="0.8"/>
<rect x="395.90" y="291.03" width="9.10" height="6.87" fill="#000000" />
<rect x="395.90" y="234.13" width="9.10" height="56.90" fill="#ffffff" />
<rect x="395.90" y="212.55" width="9.10" height="21.58" fill="#ededed" />
<rect x="395.90" y="199.80" width="9.10" height="12.75" fill="#b0b0b0" />
<line x1="396.32" y1="199.80" x2="396.32" y2="297.90" stroke="#505050" stroke-width="0.85"/>
<line x1="404.57" y1="199.80" x2="404.57" y2="297.90" stroke="#505050" stroke-width="0.85"/>
<line x1="395.90" y1="200.23" x2="405.00" y2="200.23" stroke="#505050" stroke-width="0.85"/>
<line x1="395.90" y1="291.03" x2="405.00" y2="291.03" stroke="#505050" stroke-width="0.85"/>
<line x1="395.90" y1="234.13" x2="405.00" y2="234.13" stroke="#505050" stroke-width="0.85"/>
<line x1="395.90" y1="212.55" x2="405.00" y2="212.55" stroke="#505050" stroke-width="0.85"/>
<text x="400.45" y="296.55" font-size="5.8" fill="#fff" text-anchor="middle" font-weight="bold" >7</text>
<text x="400.45" y="264.67" font-size="5.8" fill="#000" text-anchor="middle" font-weight="bold" >58</text>
<text x="400.45" y="225.43" font-size="5.8" fill="#000" text-anchor="middle" font-weight="bold" >22</text>
<text x="400.45" y="208.26" font-size="5.8" fill="#eeeeee" text-anchor="middle" font-weight="bold" >13</text>
<rect x="413.19" y="288.09" width="9.10" height="9.81" fill="#000000" />
<rect x="413.19" y="228.25" width="9.10" height="59.84" fill="#ffffff" />
<rect x="413.19" y="210.59" width="9.10" height="17.66" fill="#ededed" />
<rect x="413.19" y="199.80" width="9.10" height="10.79" fill="#b0b0b0" />
<line x1="413.62" y1="199.80" x2="413.62" y2="297.90" stroke="#505050" stroke-width="0.85"/>
<line x1="421.87" y1="199.80" x2="421.87" y2="297.90" stroke="#505050" stroke-width="0.85"/>
<line x1="413.19" y1="200.23" x2="422.29" y2="200.23" stroke="#505050" stroke-width="0.85"/>
<line x1="413.19" y1="288.09" x2="422.29" y2="288.09" stroke="#505050" stroke-width="0.85"/>
<line x1="413.19" y1="228.25" x2="422.29" y2="228.25" stroke="#505050" stroke-width="0.85"/>
<line x1="413.19" y1="210.59" x2="422.29" y2="210.59" stroke="#505050" stroke-width="0.85"/>
<text x="417.74" y="295.08" font-size="5.8" fill="#fff" text-anchor="middle" font-weight="bold" >10</text>
<text x="417.74" y="260.26" font-size="5.8" fill="#000" text-anchor="middle" font-weight="bold" >61</text>
<text x="417.74" y="221.51" font-size="5.8" fill="#000" text-anchor="middle" font-weight="bold" >18</text>
<text x="417.74" y="207.28" font-size="5.8" fill="#eeeeee" text-anchor="middle" font-weight="bold" >11</text>
<rect x="430.48" y="277.30" width="9.10" height="20.60" fill="#000000" />
<rect x="430.48" y="211.57" width="9.10" height="65.73" fill="#ffffff" />
<rect x="430.48" y="203.72" width="9.10" height="7.85" fill="#ededed" />
<rect x="430.48" y="199.80" width="9.10" height="3.92" fill="#b0b0b0" />
<line x1="430.90" y1="199.80" x2="430.90" y2="297.90" stroke="#505050" stroke-width="0.85"/>
<line x1="439.15" y1="199.80" x2="439.15" y2="297.90" stroke="#505050" stroke-width="0.85"/>
<line x1="430.48" y1="200.23" x2="439.58" y2="200.23" stroke="#505050" stroke-width="0.85"/>
<line x1="430.48" y1="277.30" x2="439.58" y2="277.30" stroke="#505050" stroke-width="0.85"/>
<line x1="430.48" y1="211.57" x2="439.58" y2="211.57" stroke="#505050" stroke-width="0.85"/>
<line x1="430.48" y1="203.72" x2="439.58" y2="203.72" stroke="#505050" stroke-width="0.85"/>
<text x="435.03" y="289.69" font-size="5.8" fill="#fff" text-anchor="middle" font-weight="bold" >21</text>
<text x="435.03" y="246.52" font-size="5.8" fill="#000" text-anchor="middle" font-weight="bold" >67</text>
<text x="435.03" y="209.74" font-size="5.8" fill="#000" text-anchor="middle" font-weight="bold" >8</text>
<text x="435.03" y="203.85" font-size="5.8" fill="#eeeeee" text-anchor="middle" font-weight="bold" >4</text>
<rect x="447.77" y="285.15" width="9.10" height="12.75" fill="#000000" />
<rect x="447.77" y="234.14" width="9.10" height="51.01" fill="#ffffff" />
<rect x="447.77" y="213.53" width="9.10" height="20.60" fill="#ededed" />
<rect x="447.77" y="199.80" width="9.10" height="13.73" fill="#b0b0b0" />
<line x1="448.19" y1="199.80" x2="448.19" y2="297.90" stroke="#505050" stroke-width="0.85"/>
<line x1="456.44" y1="199.80" x2="456.44" y2="297.90" stroke="#505050" stroke-width="0.85"/>
<line x1="447.77" y1="200.23" x2="456.87" y2="200.23" stroke="#505050" stroke-width="0.85"/>
<line x1="447.77" y1="285.15" x2="456.87" y2="285.15" stroke="#505050" stroke-width="0.85"/>
<line x1="447.77" y1="234.14" x2="456.87" y2="234.14" stroke="#505050" stroke-width="0.85"/>
<line x1="447.77" y1="213.53" x2="456.87" y2="213.53" stroke="#505050" stroke-width="0.85"/>
<text x="452.32" y="293.61" font-size="5.8" fill="#fff" text-anchor="middle" font-weight="bold" >13</text>
<text x="452.32" y="261.73" font-size="5.8" fill="#000" text-anchor="middle" font-weight="bold" >52</text>
<text x="452.32" y="225.92" font-size="5.8" fill="#000" text-anchor="middle" font-weight="bold" >21</text>
<text x="452.32" y="208.75" font-size="5.8" fill="#eeeeee" text-anchor="middle" font-weight="bold" >14</text>
<rect x="465.06" y="277.30" width="9.10" height="20.60" fill="#000000" />
<rect x="465.06" y="233.15" width="9.10" height="44.14" fill="#ffffff" />
<rect x="465.06" y="212.55" width="9.10" height="20.60" fill="#ededed" />
<rect x="465.06" y="199.80" width="9.10" height="12.75" fill="#b0b0b0" />
<line x1="465.48" y1="199.80" x2="465.48" y2="297.90" stroke="#505050" stroke-width="0.85"/>
<line x1="473.73" y1="199.80" x2="473.73" y2="297.90" stroke="#505050" stroke-width="0.85"/>
<line x1="465.06" y1="200.23" x2="474.16" y2="200.23" stroke="#505050" stroke-width="0.85"/>
<line x1="465.06" y1="277.30" x2="474.16" y2="277.30" stroke="#505050" stroke-width="0.85"/>
<line x1="465.06" y1="233.15" x2="474.16" y2="233.15" stroke="#505050" stroke-width="0.85"/>
<line x1="465.06" y1="212.55" x2="474.16" y2="212.55" stroke="#505050" stroke-width="0.85"/>
<text x="469.61" y="289.69" font-size="5.8" fill="#fff" text-anchor="middle" font-weight="bold" >21</text>
<text x="469.61" y="257.31" font-size="5.8" fill="#000" text-anchor="middle" font-weight="bold" >45</text>
<text x="469.61" y="224.94" font-size="5.8" fill="#000" text-anchor="middle" font-weight="bold" >21</text>
<text x="469.61" y="208.26" font-size="5.8" fill="#eeeeee" text-anchor="middle" font-weight="bold" >13</text>
<rect x="482.35" y="277.30" width="9.10" height="20.60" fill="#000000" />
<rect x="482.35" y="226.29" width="9.10" height="51.01" fill="#ffffff" />
<rect x="482.35" y="210.59" width="9.10" height="15.70" fill="#ededed" />
<rect x="482.35" y="199.80" width="9.10" height="10.79" fill="#b0b0b0" />
<line x1="482.77" y1="199.80" x2="482.77" y2="297.90" stroke="#505050" stroke-width="0.85"/>
<line x1="491.02" y1="199.80" x2="491.02" y2="297.90" stroke="#505050" stroke-width="0.85"/>
<line x1="482.35" y1="200.23" x2="491.45" y2="200.23" stroke="#505050" stroke-width="0.85"/>
<line x1="482.35" y1="277.30" x2="491.45" y2="277.30" stroke="#505050" stroke-width="0.85"/>
<line x1="482.35" y1="226.29" x2="491.45" y2="226.29" stroke="#505050" stroke-width="0.85"/>
<line x1="482.35" y1="210.59" x2="491.45" y2="210.59" stroke="#505050" stroke-width="0.85"/>
<text x="486.90" y="289.69" font-size="5.8" fill="#fff" text-anchor="middle" font-weight="bold" >21</text>
<text x="486.90" y="253.88" font-size="5.8" fill="#000" text-anchor="middle" font-weight="bold" >52</text>
<text x="486.90" y="220.53" font-size="5.8" fill="#000" text-anchor="middle" font-weight="bold" >16</text>
<text x="486.90" y="207.28" font-size="5.8" fill="#eeeeee" text-anchor="middle" font-weight="bold" >11</text>
<rect x="499.64" y="265.53" width="9.10" height="32.37" fill="#000000" />
<rect x="499.64" y="225.31" width="9.10" height="40.22" fill="#ffffff" />
<rect x="499.64" y="208.63" width="9.10" height="16.68" fill="#ededed" />
<rect x="499.64" y="199.80" width="9.10" height="8.83" fill="#b0b0b0" />
<line x1="500.06" y1="199.80" x2="500.06" y2="297.90" stroke="#505050" stroke-width="0.85"/>
<line x1="508.31" y1="199.80" x2="508.31" y2="297.90" stroke="#505050" stroke-width="0.85"/>
<line x1="499.64" y1="200.23" x2="508.74" y2="200.23" stroke="#505050" stroke-width="0.85"/>
<line x1="499.64" y1="265.53" x2="508.74" y2="265.53" stroke="#505050" stroke-width="0.85"/>
<line x1="499.64" y1="225.31" x2="508.74" y2="225.31" stroke="#505050" stroke-width="0.85"/>
<line x1="499.64" y1="208.63" x2="508.74" y2="208.63" stroke="#505050" stroke-width="0.85"/>
<text x="504.19" y="283.80" font-size="5.8" fill="#fff" text-anchor="middle" font-weight="bold" >33</text>
<text x="504.19" y="247.50" font-size="5.8" fill="#000" text-anchor="middle" font-weight="bold" >41</text>
<text x="504.19" y="219.06" font-size="5.8" fill="#000" text-anchor="middle" font-weight="bold" >17</text>
<text x="504.19" y="206.30" font-size="5.8" fill="#eeeeee" text-anchor="middle" font-weight="bold" >9</text>
<rect x="516.93" y="248.85" width="9.10" height="49.05" fill="#000000" />
<rect x="516.93" y="211.57" width="9.10" height="37.28" fill="#ffffff" />
<rect x="516.93" y="202.74" width="9.10" height="8.83" fill="#ededed" />
<rect x="516.93" y="199.80" width="9.10" height="2.94" fill="#b0b0b0" />
<line x1="517.35" y1="199.80" x2="517.35" y2="297.90" stroke="#505050" stroke-width="0.85"/>
<line x1="525.61" y1="199.80" x2="525.61" y2="297.90" stroke="#505050" stroke-width="0.85"/>
<line x1="516.93" y1="200.23" x2="526.03" y2="200.23" stroke="#505050" stroke-width="0.85"/>
<line x1="516.93" y1="248.85" x2="526.03" y2="248.85" stroke="#505050" stroke-width="0.85"/>
<line x1="516.93" y1="211.57" x2="526.03" y2="211.57" stroke="#505050" stroke-width="0.85"/>
<line x1="516.93" y1="202.74" x2="526.03" y2="202.74" stroke="#505050" stroke-width="0.85"/>
<text x="521.48" y="275.46" font-size="5.8" fill="#fff" text-anchor="middle" font-weight="bold" >50</text>
<text x="521.48" y="232.30" font-size="5.8" fill="#000" text-anchor="middle" font-weight="bold" >38</text>
<text x="521.48" y="209.25" font-size="5.8" fill="#000" text-anchor="middle" font-weight="bold" >9</text>
<text x="521.48" y="203.36" font-size="5.8" fill="#eeeeee" text-anchor="middle" font-weight="bold" >3</text>
<rect x="534.22" y="237.08" width="9.10" height="60.82" fill="#000000" />
<rect x="534.22" y="212.55" width="9.10" height="24.52" fill="#ffffff" />
<rect x="534.22" y="201.76" width="9.10" height="10.79" fill="#ededed" />
<rect x="534.22" y="199.80" width="9.10" height="1.96" fill="#b0b0b0" />
<line x1="534.64" y1="199.80" x2="534.64" y2="297.90" stroke="#505050" stroke-width="0.85"/>
<line x1="542.90" y1="199.80" x2="542.90" y2="297.90" stroke="#505050" stroke-width="0.85"/>
<line x1="534.22" y1="200.23" x2="543.32" y2="200.23" stroke="#505050" stroke-width="0.85"/>
<line x1="534.22" y1="237.08" x2="543.32" y2="237.08" stroke="#505050" stroke-width="0.85"/>
<line x1="534.22" y1="212.55" x2="543.32" y2="212.55" stroke="#505050" stroke-width="0.85"/>
<line x1="534.22" y1="201.76" x2="543.32" y2="201.76" stroke="#505050" stroke-width="0.85"/>
<text x="538.77" y="269.58" font-size="5.8" fill="#fff" text-anchor="middle" font-weight="bold" >62</text>
<text x="538.77" y="226.90" font-size="5.8" fill="#000" text-anchor="middle" font-weight="bold" >25</text>
<text x="538.77" y="209.25" font-size="5.8" fill="#000" text-anchor="middle" font-weight="bold" >11</text>
<text x="538.77" y="202.87" font-size="5.8" fill="#eeeeee" text-anchor="middle" font-weight="bold" >2</text>
<text x="400.45" y="308.00" font-size="5.6" fill="#333333" stroke="#333333" stroke-width="0.2" text-anchor="middle" textLength="15.12" lengthAdjust="spacingAndGlyphs" >DMSO</text>
<text x="417.74" y="308.00" font-size="5.6" fill="#333333" stroke="#333333" stroke-width="0.2" text-anchor="middle" textLength="15.41" lengthAdjust="spacingAndGlyphs" >PU100</text>
<text x="435.03" y="308.00" font-size="5.6" fill="#333333" stroke="#333333" stroke-width="0.2" text-anchor="middle" textLength="15.41" lengthAdjust="spacingAndGlyphs" >PU200</text>
<text x="452.32" y="308.00" font-size="5.6" fill="#333333" stroke="#333333" stroke-width="0.2" text-anchor="middle" textLength="9.80" lengthAdjust="spacingAndGlyphs" >VC5</text>
<text x="469.61" y="308.00" font-size="5.6" fill="#333333" stroke="#333333" stroke-width="0.2" text-anchor="middle" textLength="12.61" lengthAdjust="spacingAndGlyphs" >VC25</text>
<text x="486.90" y="308.00" font-size="5.6" fill="#333333" stroke="#333333" stroke-width="0.2" text-anchor="middle" textLength="15.41" lengthAdjust="spacingAndGlyphs" >PU100</text>
<text x="486.90" y="315.20" font-size="5.6" fill="#333333" stroke="#333333" stroke-width="0.2" text-anchor="middle" textLength="12.75" lengthAdjust="spacingAndGlyphs" >+VC5</text>
<text x="504.19" y="308.00" font-size="5.6" fill="#333333" stroke="#333333" stroke-width="0.2" text-anchor="middle" textLength="15.41" lengthAdjust="spacingAndGlyphs" >PU100</text>
<text x="504.19" y="315.20" font-size="5.6" fill="#333333" stroke="#333333" stroke-width="0.2" text-anchor="middle" textLength="15.55" lengthAdjust="spacingAndGlyphs" >+VC25</text>
<text x="521.48" y="308.00" font-size="5.6" fill="#333333" stroke="#333333" stroke-width="0.2" text-anchor="middle" textLength="15.41" lengthAdjust="spacingAndGlyphs" >PU200</text>
<text x="521.48" y="315.20" font-size="5.6" fill="#333333" stroke="#333333" stroke-width="0.2" text-anchor="middle" textLength="12.75" lengthAdjust="spacingAndGlyphs" >+VC5</text>
<text x="538.77" y="308.00" font-size="5.6" fill="#333333" stroke="#333333" stroke-width="0.2" text-anchor="middle" textLength="15.41" lengthAdjust="spacingAndGlyphs" >PU200</text>
<text x="538.77" y="315.20" font-size="5.6" fill="#333333" stroke="#333333" stroke-width="0.2" text-anchor="middle" textLength="15.55" lengthAdjust="spacingAndGlyphs" >+VC25</text>
<rect x="425.80" y="324.70" width="3.20" height="3.20" fill="#000000" stroke="#404040" stroke-width="0.6" />
<text x="430.00" y="328.00" font-size="6.4" fill="#262626" stroke="#262626" stroke-width="0.12" textLength="17.30" lengthAdjust="spacingAndGlyphs" >subG1</text>
<rect x="453.00" y="324.70" width="3.20" height="3.20" fill="#ffffff" stroke="#404040" stroke-width="0.6" />
<text x="457.30" y="328.00" font-size="6.4" fill="#262626" stroke="#262626" stroke-width="0.12" textLength="17.20" lengthAdjust="spacingAndGlyphs" >G0/G1</text>
<rect x="480.70" y="324.70" width="3.20" height="3.20" fill="#efefef" stroke="#404040" stroke-width="0.6" />
<text x="484.00" y="328.00" font-size="6.4" fill="#262626" stroke="#262626" stroke-width="0.12" textLength="4.20" lengthAdjust="spacingAndGlyphs" >S</text>
<rect x="493.60" y="324.70" width="3.20" height="3.20" fill="#a6a6a6" stroke="#404040" stroke-width="0.6" />
<text x="497.00" y="328.00" font-size="6.4" fill="#262626" stroke="#262626" stroke-width="0.12" textLength="8.50" lengthAdjust="spacingAndGlyphs" >G2</text>
<text x="188.30" y="15.70" font-size="15.6" fill="#000" textLength="18.40" lengthAdjust="spacingAndGlyphs" >(B)</text>
<text x="239.00" y="21.00" font-size="8.5" fill="#000" font-weight="bold" textLength="101.00" lengthAdjust="spacingAndGlyphs" >MOLM-13_PU-S_annexin</text>
<line x1="214.80" y1="30.90" x2="214.80" y2="131.40" stroke="#111" stroke-width="1.35"/>
<line x1="211.60" y1="130.80" x2="214.80" y2="130.80" stroke="#000" stroke-width="0.9"/>
<text x="210.90" y="132.80" font-size="5.5" fill="#444" text-anchor="end" >0</text>
<line x1="211.60" y1="110.90" x2="214.80" y2="110.90" stroke="#000" stroke-width="0.9"/>
<text x="210.90" y="112.90" font-size="5.5" fill="#444" text-anchor="end" >20</text>
<line x1="211.60" y1="91.00" x2="214.80" y2="91.00" stroke="#000" stroke-width="0.9"/>
<text x="210.90" y="93.00" font-size="5.5" fill="#444" text-anchor="end" >40</text>
<line x1="211.60" y1="71.10" x2="214.80" y2="71.10" stroke="#000" stroke-width="0.9"/>
<text x="210.90" y="73.10" font-size="5.5" fill="#444" text-anchor="end" >60</text>
<line x1="211.60" y1="51.20" x2="214.80" y2="51.20" stroke="#000" stroke-width="0.9"/>
<text x="210.90" y="53.20" font-size="5.5" fill="#444" text-anchor="end" >80</text>
<line x1="211.60" y1="31.30" x2="214.80" y2="31.30" stroke="#000" stroke-width="0.9"/>
<text x="210.90" y="33.30" font-size="5.5" fill="#444" text-anchor="end" >100</text>
<line x1="214.20" y1="130.80" x2="364.60" y2="130.80" stroke="#111" stroke-width="1.3"/>
<line x1="228.50" y1="130.80" x2="228.50" y2="133.80" stroke="#000" stroke-width="0.9"/>
<line x1="248.80" y1="130.80" x2="248.80" y2="133.80" stroke="#000" stroke-width="0.9"/>
<line x1="269.10" y1="130.80" x2="269.10" y2="133.80" stroke="#000" stroke-width="0.9"/>
<line x1="289.40" y1="130.80" x2="289.40" y2="133.80" stroke="#000" stroke-width="0.9"/>
<line x1="309.70" y1="130.80" x2="309.70" y2="133.80" stroke="#000" stroke-width="0.9"/>
<line x1="330.00" y1="130.80" x2="330.00" y2="133.80" stroke="#000" stroke-width="0.9"/>
<line x1="350.30" y1="130.80" x2="350.30" y2="133.80" stroke="#000" stroke-width="0.9"/>
<text x="228.50" y="140.30" font-size="5.9" fill="#1a1a1a" stroke="#1a1a1a" stroke-width="0.06" text-anchor="middle" >DMSO</text>
<text x="248.80" y="140.30" font-size="5.9" fill="#1a1a1a" stroke="#1a1a1a" stroke-width="0.06" text-anchor="middle" >PU50</text>
<text x="269.10" y="140.30" font-size="5.9" fill="#1a1a1a" stroke="#1a1a1a" stroke-width="0.06" text-anchor="middle" >PU100</text>
<text x="289.40" y="140.30" font-size="5.9" fill="#1a1a1a" stroke="#1a1a1a" stroke-width="0.06" text-anchor="middle" >S5</text>
<text x="309.70" y="140.30" font-size="5.9" fill="#1a1a1a" stroke="#1a1a1a" stroke-width="0.06" text-anchor="middle" >S10</text>
<text x="330.00" y="140.30" font-size="5.9" fill="#1a1a1a" stroke="#1a1a1a" stroke-width="0.06" text-anchor="middle" >PU50</text>
<text x="330.00" y="146.60" font-size="5.9" fill="#1a1a1a" stroke="#1a1a1a" stroke-width="0.06" text-anchor="middle" >+S10</text>
<text x="350.30" y="140.30" font-size="5.9" fill="#1a1a1a" stroke="#1a1a1a" stroke-width="0.06" text-anchor="middle" >PU100</text>
<text x="350.30" y="146.60" font-size="5.9" fill="#1a1a1a" stroke="#1a1a1a" stroke-width="0.06" text-anchor="middle" >+S10</text>
<text x="197.10" y="81.70" font-size="6.6" fill="#1a1a1a" text-anchor="middle" textLength="75.00" lengthAdjust="spacingAndGlyphs" transform="rotate(-90 197.10 81.70)" >annexin positive cells (%)</text>
<line x1="228.50" y1="115.60" x2="228.50" y2="116.80" stroke="#111" stroke-width="0.9"/>
<line x1="228.50" y1="122.40" x2="228.50" y2="122.90" stroke="#111" stroke-width="0.9"/>
<line x1="225.30" y1="116.05" x2="231.70" y2="116.05" stroke="#111" stroke-width="0.9"/>
<line x1="225.30" y1="122.45" x2="231.70" y2="122.45" stroke="#111" stroke-width="0.9"/>
<rect x="222.30" y="117.30" width="12.40" height="4.60" fill="#b0b0b0" stroke="#1a1a1a" stroke-width="1.0" />
<line x1="222.30" y1="120.30" x2="234.70" y2="120.30" stroke="#1a1a1a" stroke-width="1.0"/>
<line x1="248.80" y1="115.60" x2="248.80" y2="117.00" stroke="#111" stroke-width="0.9"/>
<line x1="248.80" y1="121.20" x2="248.80" y2="122.00" stroke="#111" stroke-width="0.9"/>
<line x1="245.60" y1="116.05" x2="252.00" y2="116.05" stroke="#111" stroke-width="0.9"/>
<line x1="245.60" y1="121.55" x2="252.00" y2="121.55" stroke="#111" stroke-width="0.9"/>
<rect x="242.60" y="117.50" width="12.40" height="3.20" fill="#b0b0b0" stroke="#1a1a1a" stroke-width="1.0" />
<line x1="242.60" y1="119.60" x2="255.00" y2="119.60" stroke="#1a1a1a" stroke-width="1.0"/>
<line x1="269.10" y1="95.90" x2="269.10" y2="97.30" stroke="#111" stroke-width="0.9"/>
<line x1="269.10" y1="104.60" x2="269.10" y2="105.50" stroke="#111" stroke-width="0.9"/>
<line x1="265.90" y1="96.35" x2="272.30" y2="96.35" stroke="#111" stroke-width="0.9"/>
<line x1="265.90" y1="105.05" x2="272.30" y2="105.05" stroke="#111" stroke-width="0.9"/>
<rect x="262.90" y="97.80" width="12.40" height="6.30" fill="#b0b0b0" stroke="#1a1a1a" stroke-width="1.0" />
<line x1="262.90" y1="101.50" x2="275.30" y2="101.50" stroke="#1a1a1a" stroke-width="1.0"/>
<line x1="289.40" y1="110.60" x2="289.40" y2="112.10" stroke="#111" stroke-width="0.9"/>
<line x1="289.40" y1="120.00" x2="289.40" y2="120.80" stroke="#111" stroke-width="0.9"/>
<line x1="286.20" y1="111.05" x2="292.60" y2="111.05" stroke="#111" stroke-width="0.9"/>
<line x1="286.20" y1="120.35" x2="292.60" y2="120.35" stroke="#111" stroke-width="0.9"/>
<rect x="283.20" y="112.60" width="12.40" height="6.90" fill="#b0b0b0" stroke="#1a1a1a" stroke-width="1.0" />
<line x1="283.20" y1="116.40" x2="295.60" y2="116.40" stroke="#1a1a1a" stroke-width="1.0"/>
<line x1="309.70" y1="81.00" x2="309.70" y2="82.10" stroke="#111" stroke-width="0.9"/>
<line x1="309.70" y1="90.40" x2="309.70" y2="90.90" stroke="#111" stroke-width="0.9"/>
<line x1="306.50" y1="81.45" x2="312.90" y2="81.45" stroke="#111" stroke-width="0.9"/>
<line x1="306.50" y1="90.45" x2="312.90" y2="90.45" stroke="#111" stroke-width="0.9"/>
<rect x="303.50" y="82.60" width="12.40" height="7.30" fill="#b0b0b0" stroke="#1a1a1a" stroke-width="1.0" />
<line x1="303.50" y1="86.40" x2="315.90" y2="86.40" stroke="#1a1a1a" stroke-width="1.0"/>
<line x1="330.00" y1="95.80" x2="330.00" y2="97.40" stroke="#111" stroke-width="0.9"/>
<line x1="330.00" y1="105.60" x2="330.00" y2="106.30" stroke="#111" stroke-width="0.9"/>
<line x1="326.80" y1="96.25" x2="333.20" y2="96.25" stroke="#111" stroke-width="0.9"/>
<line x1="326.80" y1="105.85" x2="333.20" y2="105.85" stroke="#111" stroke-width="0.9"/>
<rect x="323.80" y="97.90" width="12.40" height="7.20" fill="#b0b0b0" stroke="#1a1a1a" stroke-width="1.0" />
<line x1="323.80" y1="102.00" x2="336.20" y2="102.00" stroke="#1a1a1a" stroke-width="1.0"/>
<line x1="350.30" y1="56.20" x2="350.30" y2="57.40" stroke="#111" stroke-width="0.9"/>
<line x1="350.30" y1="68.60" x2="350.30" y2="71.60" stroke="#111" stroke-width="0.9"/>
<line x1="347.10" y1="56.65" x2="353.50" y2="56.65" stroke="#111" stroke-width="0.9"/>
<line x1="347.10" y1="71.15" x2="353.50" y2="71.15" stroke="#111" stroke-width="0.9"/>
<rect x="344.10" y="57.90" width="12.40" height="10.20" fill="#b0b0b0" stroke="#1a1a1a" stroke-width="1.0" />
<line x1="344.10" y1="60.20" x2="356.50" y2="60.20" stroke="#1a1a1a" stroke-width="1.0"/>
<line x1="228.50" y1="87.10" x2="269.50" y2="87.10" stroke="#2a2a2a" stroke-width="1.1"/>
<line x1="228.50" y1="83.30" x2="228.50" y2="90.50" stroke="#2a2a2a" stroke-width="1.0"/>
<line x1="269.50" y1="83.30" x2="269.50" y2="90.50" stroke="#2a2a2a" stroke-width="1.0"/>
<text x="244.20" y="87.90" font-size="9.6" font-weight="bold" fill="#111" textLength="13.40" lengthAdjust="spacing">***</text>
<line x1="269.70" y1="50.30" x2="350.90" y2="50.30" stroke="#2a2a2a" stroke-width="1.1"/>
<line x1="269.70" y1="47.80" x2="269.70" y2="53.60" stroke="#2a2a2a" stroke-width="1.0"/>
<line x1="350.90" y1="47.80" x2="350.90" y2="53.60" stroke="#2a2a2a" stroke-width="1.0"/>
<text x="301.60" y="50.90" font-size="9.6" font-weight="bold" fill="#111" textLength="18.00" lengthAdjust="spacing">****</text>
<line x1="309.50" y1="75.50" x2="350.90" y2="75.50" stroke="#2a2a2a" stroke-width="1.1"/>
<line x1="309.50" y1="72.00" x2="309.50" y2="78.50" stroke="#2a2a2a" stroke-width="1.0"/>
<line x1="350.90" y1="71.50" x2="350.90" y2="78.00" stroke="#2a2a2a" stroke-width="1.0"/>
<text x="320.90" y="76.50" font-size="9.6" font-weight="bold" fill="#111" textLength="18.00" lengthAdjust="spacing">****</text>
<text x="188.40" y="185.00" font-size="15.6" fill="#000" textLength="16.80" lengthAdjust="spacingAndGlyphs" >(E)</text>
<text x="237.60" y="188.80" font-size="8.5" fill="#000" font-weight="bold" textLength="105.50" lengthAdjust="spacingAndGlyphs" >MOLM-13_PU-VC_annexin</text>
<line x1="215.50" y1="198.60" x2="215.50" y2="298.30" stroke="#111" stroke-width="1.35"/>
<line x1="212.30" y1="297.70" x2="215.50" y2="297.70" stroke="#000" stroke-width="0.9"/>
<text x="211.60" y="299.70" font-size="5.5" fill="#444" text-anchor="end" >0</text>
<line x1="212.30" y1="277.96" x2="215.50" y2="277.96" stroke="#000" stroke-width="0.9"/>
<text x="211.60" y="279.96" font-size="5.5" fill="#444" text-anchor="end" >20</text>
<line x1="212.30" y1="258.22" x2="215.50" y2="258.22" stroke="#000" stroke-width="0.9"/>
<text x="211.60" y="260.22" font-size="5.5" fill="#444" text-anchor="end" >40</text>
<line x1="212.30" y1="238.48" x2="215.50" y2="238.48" stroke="#000" stroke-width="0.9"/>
<text x="211.60" y="240.48" font-size="5.5" fill="#444" text-anchor="end" >60</text>
<line x1="212.30" y1="218.74" x2="215.50" y2="218.74" stroke="#000" stroke-width="0.9"/>
<text x="211.60" y="220.74" font-size="5.5" fill="#444" text-anchor="end" >80</text>
<line x1="212.30" y1="199.00" x2="215.50" y2="199.00" stroke="#000" stroke-width="0.9"/>
<text x="211.60" y="201.00" font-size="5.5" fill="#444" text-anchor="end" >100</text>
<line x1="214.90" y1="297.70" x2="363.50" y2="297.70" stroke="#111" stroke-width="1.3"/>
<line x1="229.10" y1="297.70" x2="229.10" y2="300.70" stroke="#000" stroke-width="0.9"/>
<line x1="249.30" y1="297.70" x2="249.30" y2="300.70" stroke="#000" stroke-width="0.9"/>
<line x1="269.50" y1="297.70" x2="269.50" y2="300.70" stroke="#000" stroke-width="0.9"/>
<line x1="289.70" y1="297.70" x2="289.70" y2="300.70" stroke="#000" stroke-width="0.9"/>
<line x1="309.90" y1="297.70" x2="309.90" y2="300.70" stroke="#000" stroke-width="0.9"/>
<line x1="330.10" y1="297.70" x2="330.10" y2="300.70" stroke="#000" stroke-width="0.9"/>
<line x1="350.30" y1="297.70" x2="350.30" y2="300.70" stroke="#000" stroke-width="0.9"/>
<text x="229.10" y="307.00" font-size="5.9" fill="#1a1a1a" stroke="#1a1a1a" stroke-width="0.06" text-anchor="middle" >DMSO</text>
<text x="249.30" y="307.00" font-size="5.9" fill="#1a1a1a" stroke="#1a1a1a" stroke-width="0.06" text-anchor="middle" >PU100</text>
<text x="269.50" y="307.00" font-size="5.9" fill="#1a1a1a" stroke="#1a1a1a" stroke-width="0.06" text-anchor="middle" >PU200</text>
<text x="289.70" y="307.00" font-size="5.9" fill="#1a1a1a" stroke="#1a1a1a" stroke-width="0.06" text-anchor="middle" >VC5</text>
<text x="309.90" y="307.00" font-size="5.9" fill="#1a1a1a" stroke="#1a1a1a" stroke-width="0.06" text-anchor="middle" >VC25</text>
<text x="330.10" y="307.00" font-size="5.9" fill="#1a1a1a" stroke="#1a1a1a" stroke-width="0.06" text-anchor="middle" >PU100</text>
<text x="330.10" y="313.40" font-size="5.9" fill="#1a1a1a" stroke="#1a1a1a" stroke-width="0.06" text-anchor="middle" >+VC25</text>
<text x="350.30" y="307.00" font-size="5.9" fill="#1a1a1a" stroke="#1a1a1a" stroke-width="0.06" text-anchor="middle" >PU200</text>
<text x="350.30" y="313.40" font-size="5.9" fill="#1a1a1a" stroke="#1a1a1a" stroke-width="0.06" text-anchor="middle" >+VC25</text>
<text x="197.50" y="248.50" font-size="6.6" fill="#1a1a1a" text-anchor="middle" textLength="75.00" lengthAdjust="spacingAndGlyphs" transform="rotate(-90 197.50 248.50)" >annexin positive cells (%)</text>
<line x1="229.10" y1="282.50" x2="229.10" y2="283.30" stroke="#111" stroke-width="0.9"/>
<line x1="229.10" y1="287.70" x2="229.10" y2="288.30" stroke="#111" stroke-width="0.9"/>
<line x1="225.90" y1="282.95" x2="232.30" y2="282.95" stroke="#111" stroke-width="0.9"/>
<line x1="225.90" y1="287.85" x2="232.30" y2="287.85" stroke="#111" stroke-width="0.9"/>
<rect x="222.90" y="283.80" width="12.40" height="3.40" fill="#b0b0b0" stroke="#1a1a1a" stroke-width="1.0" />
<line x1="222.90" y1="285.50" x2="235.30" y2="285.50" stroke="#1a1a1a" stroke-width="1.0"/>
<line x1="249.30" y1="277.30" x2="249.30" y2="278.20" stroke="#111" stroke-width="0.9"/>
<line x1="249.30" y1="282.90" x2="249.30" y2="283.50" stroke="#111" stroke-width="0.9"/>
<line x1="246.10" y1="277.75" x2="252.50" y2="277.75" stroke="#111" stroke-width="0.9"/>
<line x1="246.10" y1="283.05" x2="252.50" y2="283.05" stroke="#111" stroke-width="0.9"/>
<rect x="243.10" y="278.70" width="12.40" height="3.70" fill="#b0b0b0" stroke="#1a1a1a" stroke-width="1.0" />
<line x1="243.10" y1="280.50" x2="255.50" y2="280.50" stroke="#1a1a1a" stroke-width="1.0"/>
<line x1="269.50" y1="263.20" x2="269.50" y2="264.00" stroke="#111" stroke-width="0.9"/>
<line x1="269.50" y1="272.00" x2="269.50" y2="273.30" stroke="#111" stroke-width="0.9"/>
<line x1="266.30" y1="263.65" x2="272.70" y2="263.65" stroke="#111" stroke-width="0.9"/>
<line x1="266.30" y1="272.85" x2="272.70" y2="272.85" stroke="#111" stroke-width="0.9"/>
<rect x="263.30" y="264.50" width="12.40" height="7.00" fill="#b0b0b0" stroke="#1a1a1a" stroke-width="1.0" />
<line x1="263.30" y1="266.00" x2="275.70" y2="266.00" stroke="#1a1a1a" stroke-width="1.0"/>
<line x1="289.70" y1="272.90" x2="289.70" y2="274.50" stroke="#111" stroke-width="0.9"/>
<line x1="289.70" y1="282.50" x2="289.70" y2="283.20" stroke="#111" stroke-width="0.9"/>
<line x1="286.50" y1="273.35" x2="292.90" y2="273.35" stroke="#111" stroke-width="0.9"/>
<line x1="286.50" y1="282.75" x2="292.90" y2="282.75" stroke="#111" stroke-width="0.9"/>
<rect x="283.50" y="275.00" width="12.40" height="7.00" fill="#b0b0b0" stroke="#1a1a1a" stroke-width="1.0" />
<line x1="283.50" y1="280.00" x2="295.90" y2="280.00" stroke="#1a1a1a" stroke-width="1.0"/>
<line x1="309.90" y1="263.20" x2="309.90" y2="264.80" stroke="#111" stroke-width="0.9"/>
<line x1="309.90" y1="272.20" x2="309.90" y2="273.10" stroke="#111" stroke-width="0.9"/>
<line x1="306.70" y1="263.65" x2="313.10" y2="263.65" stroke="#111" stroke-width="0.9"/>
<line x1="306.70" y1="272.65" x2="313.10" y2="272.65" stroke="#111" stroke-width="0.9"/>
<rect x="303.70" y="265.30" width="12.40" height="6.40" fill="#b0b0b0" stroke="#1a1a1a" stroke-width="1.0" />
<line x1="303.70" y1="268.60" x2="316.10" y2="268.60" stroke="#1a1a1a" stroke-width="1.0"/>
<line x1="330.10" y1="248.50" x2="330.10" y2="250.10" stroke="#111" stroke-width="0.9"/>
<line x1="330.10" y1="261.60" x2="330.10" y2="263.10" stroke="#111" stroke-width="0.9"/>
<line x1="326.90" y1="248.95" x2="333.30" y2="248.95" stroke="#111" stroke-width="0.9"/>
<line x1="326.90" y1="262.65" x2="333.30" y2="262.65" stroke="#111" stroke-width="0.9"/>
<rect x="323.90" y="250.60" width="12.40" height="10.50" fill="#b0b0b0" stroke="#1a1a1a" stroke-width="1.0" />
<line x1="323.90" y1="256.80" x2="336.30" y2="256.80" stroke="#1a1a1a" stroke-width="1.0"/>
<line x1="350.30" y1="223.40" x2="350.30" y2="225.20" stroke="#111" stroke-width="0.9"/>
<line x1="350.30" y1="236.30" x2="350.30" y2="238.30" stroke="#111" stroke-width="0.9"/>
<line x1="347.10" y1="223.85" x2="353.50" y2="223.85" stroke="#111" stroke-width="0.9"/>
<line x1="347.10" y1="237.85" x2="353.50" y2="237.85" stroke="#111" stroke-width="0.9"/>
<rect x="344.10" y="225.70" width="12.40" height="10.10" fill="#b0b0b0" stroke="#1a1a1a" stroke-width="1.0" />
<line x1="344.10" y1="230.60" x2="356.50" y2="230.60" stroke="#1a1a1a" stroke-width="1.0"/>
<line x1="229.30" y1="256.30" x2="269.00" y2="256.30" stroke="#2a2a2a" stroke-width="1.1"/>
<line x1="229.30" y1="252.90" x2="229.30" y2="259.60" stroke="#2a2a2a" stroke-width="1.0"/>
<line x1="269.00" y1="252.90" x2="269.00" y2="259.60" stroke="#2a2a2a" stroke-width="1.0"/>
<text x="243.80" y="257.00" font-size="9.6" font-weight="bold" fill="#111" textLength="13.40" lengthAdjust="spacing">***</text>
<line x1="269.90" y1="215.40" x2="350.10" y2="215.40" stroke="#2a2a2a" stroke-width="1.1"/>
<line x1="269.90" y1="212.40" x2="269.90" y2="219.00" stroke="#2a2a2a" stroke-width="1.0"/>
<line x1="350.10" y1="212.40" x2="350.10" y2="219.00" stroke="#2a2a2a" stroke-width="1.0"/>
<text x="304.10" y="214.70" font-size="9.6" font-weight="bold" fill="#111" textLength="18.00" lengthAdjust="spacing">****</text>
<line x1="310.10" y1="245.70" x2="350.10" y2="245.70" stroke="#2a2a2a" stroke-width="1.1"/>
<line x1="310.10" y1="242.30" x2="310.10" y2="249.20" stroke="#2a2a2a" stroke-width="1.0"/>
<line x1="350.10" y1="241.80" x2="350.10" y2="249.50" stroke="#2a2a2a" stroke-width="1.0"/>
<text x="321.40" y="245.00" font-size="9.6" font-weight="bold" fill="#111" textLength="18.00" lengthAdjust="spacing">****</text>
</svg></body></html>
